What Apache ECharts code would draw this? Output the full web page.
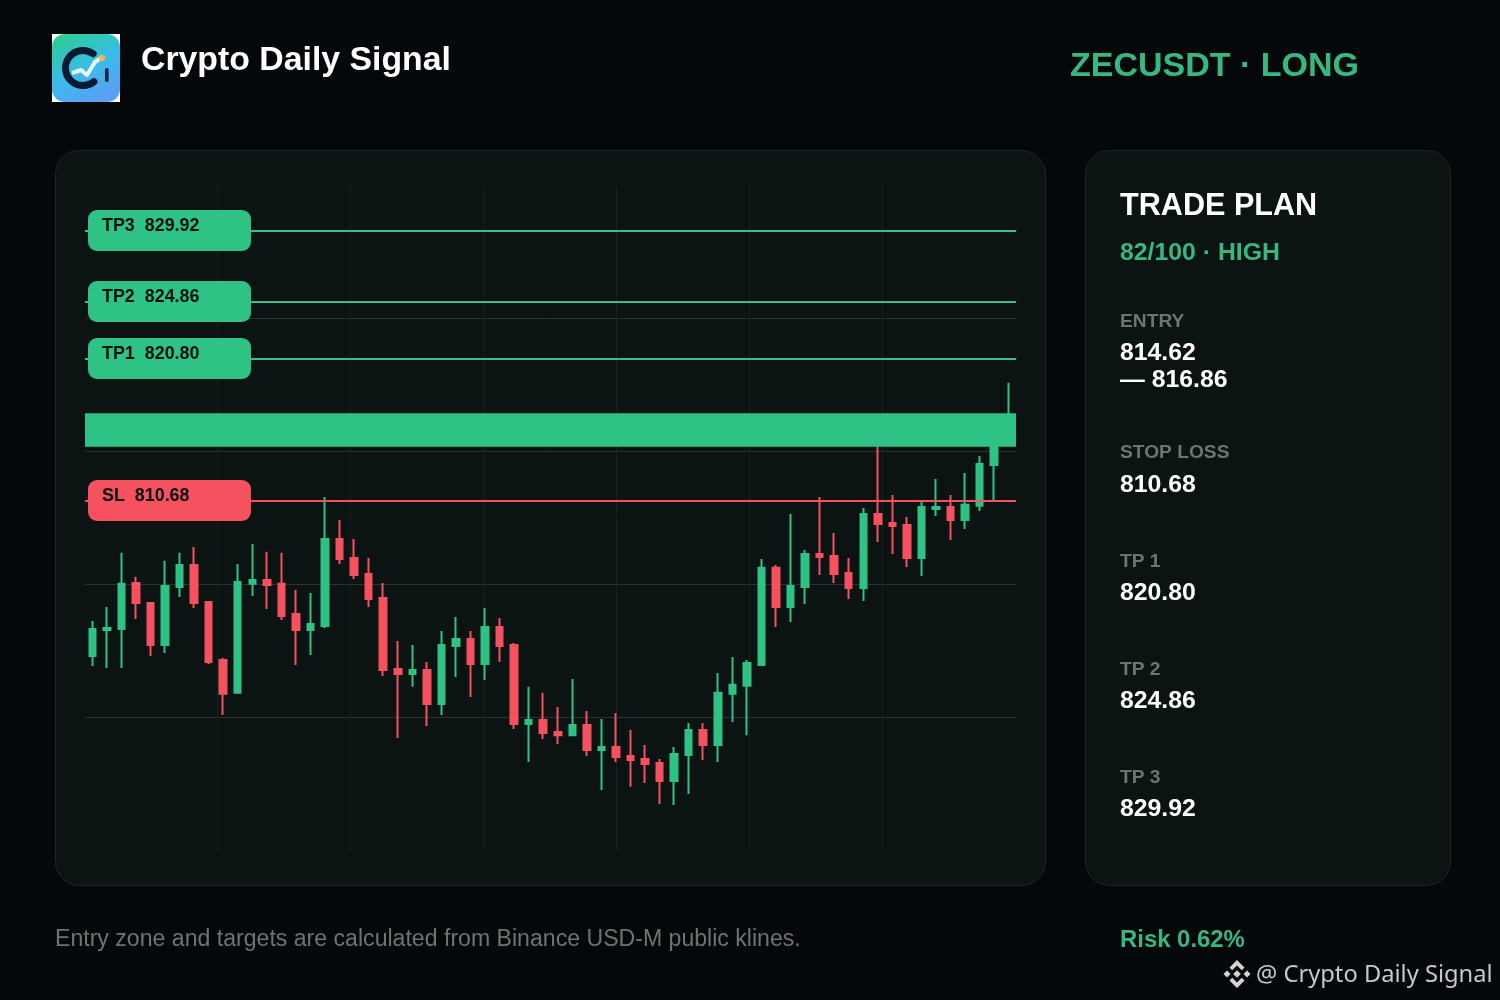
<!DOCTYPE html>
<html><head><meta charset="utf-8">
<style>html,body{margin:0;padding:0;background:#05080a}#c{width:1500px;height:1000px}</style>
<script src="https://cdn.jsdelivr.net/npm/echarts@6/dist/echarts.min.js"></script>
</head><body><div id="c"></div>
<script>
const opens=[799.63,801.48,801.55,804.84,803.41,800.42,804.55,806.12,803.48,799.35,797.00,804.77,805.05,804.77,802.62,801.48,801.77,807.97,806.62,805.48,803.76,798.70,798.35,798.63,796.21,800.34,800.84,799.06,801.69,800.42,794.78,795.07,794.21,793.98,794.71,792.93,793.14,792.50,792.29,792.00,790.72,792.57,794.35,793.29,796.93,797.50,798.99,805.91,803.12,804.55,806.90,806.76,805.55,804.48,809.75,809.11,808.97,806.62,810.11,810.25,809.33,810.33,813.25,815.00];
const closes=[801.55,801.62,804.77,803.41,800.42,804.62,806.12,803.41,799.20,796.93,804.91,805.05,804.69,802.48,801.48,801.91,807.97,806.55,805.40,803.69,798.63,798.35,798.63,796.21,800.42,800.84,799.06,801.69,800.34,794.78,795.07,794.14,793.98,794.71,792.93,793.14,792.43,792.22,791.93,790.72,792.65,794.35,793.29,797.00,797.57,799.13,805.91,803.12,804.62,806.90,806.69,805.48,804.48,809.75,809.04,808.90,806.62,810.25,810.25,809.33,810.40,813.32,815.00,816.30];
const lows=[798.92,798.78,798.78,802.27,799.63,799.85,803.83,803.05,799.06,795.43,797.00,803.91,802.98,802.19,798.99,799.70,801.62,806.19,805.12,803.12,798.20,793.79,797.43,794.64,795.43,798.13,796.71,797.92,799.20,794.43,792.07,793.72,793.36,793.98,792.50,790.08,792.07,790.30,790.58,789.08,789.01,789.80,792.22,792.07,794.92,793.98,798.99,801.69,802.05,803.34,805.40,804.84,803.69,803.55,807.76,806.90,805.98,805.33,809.61,807.90,808.68,809.97,810.75,814.70];
const highs=[802.12,803.12,806.98,805.27,803.45,806.41,806.98,807.40,803.50,799.49,806.19,807.62,807.05,806.98,804.33,804.12,810.96,809.33,807.97,806.62,804.84,800.70,800.42,799.20,801.41,802.41,801.41,803.05,802.34,800.56,797.43,797.00,796.00,797.99,795.71,795.14,795.57,794.35,793.29,792.29,793.14,794.85,794.85,798.42,799.56,799.35,806.55,806.12,809.75,807.19,810.96,808.40,806.62,810.18,814.65,811.11,809.54,810.61,812.25,811.11,812.68,813.89,815.50,819.10];
const levelNames=['TP3','TP2','TP1','SL'];
const levelPrices=[829.92,824.86,820.80,810.68];
const levelLabels=['TP3  829.92','TP2  824.86','TP1  820.80','SL  810.68'];
const entryZone=[814.62,816.86];
const planLabels=['ENTRY','STOP LOSS','TP 1','TP 2','TP 3'];
const planValues=['814.62\n— 816.86','810.68','820.80','824.86','829.92'];
const titleText='Crypto Daily Signal', symbolText='ZECUSDT · LONG', planTitle='TRADE PLAN', scoreText='82/100 · HIGH';
const footText='Entry zone and targets are calculated from Binance USD-M public klines.', riskText='Risk 0.62%', markText='@ Crypto Daily Signal';

const GREEN='#2EC285', TEXTGREEN='#36B880', RED='#F5515F';
const candles=opens.map((o,i)=>[o,closes[i],lows[i],highs[i]]);
const cats=opens.map((_,i)=>String(i+1));
const F='"Liberation Sans",Arial,sans-serif';
const txt=(x,y,t,font,fill,extra)=>({type:'text',z:10,silent:true,style:Object.assign({x,y,text:t,font,fill,textVerticalAlign:'middle',verticalAlign:'middle',align:'left'},extra||{})});
const poly=(pts,fill)=>({type:'polygon',z:10,silent:true,shape:{points:pts},style:{fill}});
const panel=(x,y,w,h)=>({type:'rect',z:-10,silent:true,shape:{x,y,width:w,height:h,r:24},style:{fill:'#0C1413',stroke:'#1D2725',lineWidth:1}});
const bx=1237,by=974,mc='#D4D4D4';
const off=(arr)=>arr.map(p=>[bx+p[0],by+p[1]]);
const LBL='bold 19.2px '+F, VAL='bold 24.8px '+F;
const graphics=[
 {type:'rect',z:-9,silent:true,shape:{x:52,y:34,width:68,height:68},style:{fill:'#fff'}},
 {type:'rect',z:-8,silent:true,shape:{x:52,y:34,width:68,height:68,r:13},style:{fill:new echarts.graphic.LinearGradient(0.1,0,0.6,1,[{offset:0,color:'#2ECC8F'},{offset:0.55,color:'#38BDE8'},{offset:1,color:'#5AA0F5'}])}},
 {type:'arc',z:10,silent:true,shape:{cx:83,cy:68,r:17.5,startAngle:-0.95,endAngle:0.9,clockwise:false},style:{stroke:'#0B1A30',lineWidth:7,fill:null,lineCap:'round'}},
 {type:'polyline',z:11,silent:true,shape:{points:[[72,73],[81,70],[87,75],[95,62],[101,58]]},style:{stroke:'#EAF7FF',lineWidth:4,fill:null,lineJoin:'round'}},
 {type:'circle',z:12,silent:true,shape:{cx:102,cy:58,r:3.2},style:{fill:'#F2B35A'}},
 {type:'rect',z:11,silent:true,shape:{x:105,y:68,width:3.6,height:14,r:1.5},style:{fill:'#0C2A4A'}},
 panel(55.5,150.5,990,735),panel(1085.5,150.5,365,735),
 txt(141,60.5,titleText,'bold 33.8px '+F,'#FFFFFF'),
 txt(1070,66.5,symbolText,'bold 34px '+F,TEXTGREEN),
 txt(1120,206.5,planTitle,'bold 30.6px '+F,'#FFFFFF'),
 txt(1120,253,scoreText,'bold 24.8px '+F,TEXTGREEN),
 txt(1120,322,planLabels[0],LBL,'#6E7472'),
 txt(1120,353,planValues[0].split('\n')[0],VAL,'#FFFFFF'),
 txt(1120,380,planValues[0].split('\n')[1],VAL,'#FFFFFF'),
 txt(1120,453,planLabels[1],LBL,'#6E7472'),
 txt(1120,485,planValues[1],VAL,'#FFFFFF'),
 txt(1120,562,planLabels[2],LBL,'#6E7472'),
 txt(1120,593,planValues[2],VAL,'#FFFFFF'),
 txt(1120,670,planLabels[3],LBL,'#6E7472'),
 txt(1120,701,planValues[3],VAL,'#FFFFFF'),
 txt(1120,778,planLabels[4],LBL,'#6E7472'),
 txt(1120,809,planValues[4],VAL,'#FFFFFF'),
 txt(55,939.5,footText,'23.1px '+F,'#6E7472'),
 txt(1120,940,riskText,'bold 23.9px '+F,TEXTGREEN),
 txt(1256,975,markText,'23.7px "Noto Sans",sans-serif','#C8C8C8'),
 poly(off([[0,-14],[7.5,-6.5],[4.8,-3.8],[0,-8.4],[-4.8,-3.8],[-7.5,-6.5]]),mc),
 poly(off([[0,14],[7.5,6.5],[4.8,3.8],[0,8.4],[-4.8,3.8],[-7.5,6.5]]),mc),
 poly(off([[0,-3.8],[3.8,0],[0,3.8],[-3.8,0]]),mc),
 poly(off([[-10,-3.5],[-6.5,0],[-10,3.5],[-13.5,0]]),mc),
 poly(off([[10,-3.5],[13.5,0],[10,3.5],[6.5,0]]),mc)
];
const hiddenAxis={axisLine:{show:false},axisTick:{show:false},axisLabel:{show:false}};
const chart=echarts.init(document.getElementById('c'),null,{renderer:'canvas'});
chart.setOption({
 animation:false,backgroundColor:'#05080A',
 graphic:{elements:graphics},
 grid:[{left:85,top:185,width:931,height:665,show:false},{left:84,top:185,width:931,height:665,show:false}],
 xAxis:[
  {type:'category',gridIndex:0,data:cats,show:false},
  {type:'value',gridIndex:0,min:0,max:7,show:false,splitLine:{show:false}},
  Object.assign({type:'value',gridIndex:1,min:0,max:7,interval:1,splitLine:{show:true,showMinLine:false,showMaxLine:false,lineStyle:{color:'#172120',width:1}}},hiddenAxis)
 ],
 yAxis:[
  {type:'value',gridIndex:0,min:785.8,max:833.2,show:false,splitLine:{show:false}},
  Object.assign({type:'value',gridIndex:0,min:0,max:5,interval:1,splitLine:{show:true,showMinLine:false,showMaxLine:false,lineStyle:{color:'#2A3331',width:1}}},hiddenAxis),
  {type:'value',gridIndex:1,min:0,max:5,show:false,splitLine:{show:false}}
 ],
 series:[
  {type:'candlestick',name:'ZECUSDT',xAxisIndex:0,yAxisIndex:0,z:2,data:candles,barWidth:7,silent:true,
   itemStyle:{color:GREEN,color0:RED,borderColor:GREEN,borderColor0:RED,borderWidth:2}},
  {type:'custom',name:'Entry',xAxisIndex:1,yAxisIndex:0,z:4,silent:true,clip:false,data:[entryZone],
   renderItem(p,api){
    const a=api.coord([0,api.value(1)]),b=api.coord([7,api.value(0)]);
    return {type:'rect',shape:{x:a[0],y:a[1]-1,width:b[0]-a[0],height:b[1]-a[1]+2},style:{fill:GREEN}};
   }},
  {type:'custom',name:'Levels',xAxisIndex:1,yAxisIndex:0,z:5,silent:true,clip:false,data:levelPrices.map((v,i)=>[0,v]),
   renderItem(p,api){
    const i=p.dataIndex,s=api.coord([0,api.value(1)]),e=api.coord([7,api.value(1)]);
    const col=levelNames[i]==='SL'?RED:GREEN, y=Math.round(s[1]);
    return {type:'group',children:[
     {type:'line',shape:{x1:s[0],y1:y,x2:e[0],y2:y},style:{stroke:col,lineWidth:2}},
     {type:'rect',shape:{x:88,y:y-21,width:163,height:41,r:9},style:{fill:col}},
     {type:'text',style:{x:102,y:y-4.5,text:levelLabels[i],font:'bold 17.9px '+F,fill:'#07100D',textVerticalAlign:'middle',verticalAlign:'middle'}}
    ]};
   }}
 ]
});
</script></body></html>
